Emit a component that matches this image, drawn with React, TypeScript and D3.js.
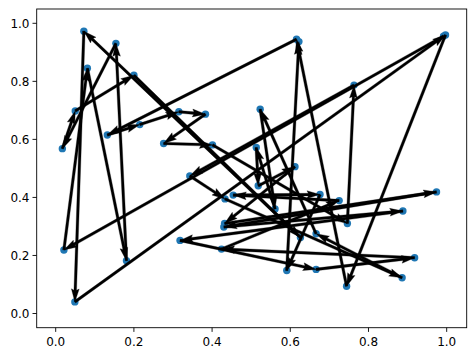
import React from "react";
import * as d3 from "d3";

// path of points (arrow i goes from point i to point i+1)
const xValues = [
  0.992, 0.021, 0.081, 0.181, 0.154, 0.017, 0.05, 0.2, 0.626, 0.072, 0.049, 0.997,
  0.744, 0.616, 0.132, 0.215, 0.315, 0.383, 0.276, 0.401, 0.746, 0.763, 0.343,
  0.433, 0.886, 0.666, 0.523, 0.561, 0.513, 0.518, 0.612, 0.432, 0.974, 0.43,
  0.888, 0.318, 0.666, 0.918, 0.424, 0.725, 0.454, 0.676, 0.591, 0.622,
];
const yValues = [
  0.956, 0.219, 0.845, 0.182, 0.931, 0.568, 0.698, 0.821, 0.262, 0.973, 0.04, 0.96,
  0.094, 0.945, 0.615, 0.651, 0.695, 0.687, 0.586, 0.581, 0.31, 0.787, 0.474,
  0.395, 0.123, 0.275, 0.704, 0.36, 0.572, 0.44, 0.506, 0.31, 0.419, 0.298,
  0.353, 0.252, 0.152, 0.192, 0.222, 0.389, 0.408, 0.41, 0.148, 0.937,
];
const tickValues = [0, 0.2, 0.4, 0.6, 0.8, 1.0];

const W = 474;
const H = 357;
const L = 36.7, R = 466.7, T = 9, B = 327.7;

export default function App() {
  const xs = d3.scaleLinear().domain([-0.0486, 1.0512]).range([L, R]);
  const ys = d3.scaleLinear().domain([-0.0489, 1.0493]).range([B, T]);
  const w = 2.6;
  const arrows = [];
  for (let i = 0; i < xValues.length - 1; i++) {
    const x0 = xs(xValues[i]), y0 = ys(yValues[i]);
    const x1 = xs(xValues[i + 1]), y1 = ys(yValues[i + 1]);
    const len = Math.hypot(x1 - x0, y1 - y0);
    const ang = (Math.atan2(y1 - y0, x1 - x0) * 180) / Math.PI;
    const hl = 5 * w, hal = 4.5 * w, hw = 1.5 * w, sw = 0.5 * w;
    const pts = [
      [0, -sw], [len - hal, -sw], [len - hl, -hw], [len, 0],
      [len - hl, hw], [len - hal, sw], [0, sw],
    ].map((p) => p.join(",")).join(" ");
    arrows.push(
      <polygon key={i} points={pts} fill="#000" stroke="#000" strokeWidth={0.3}
        transform={`translate(${x0},${y0}) rotate(${ang})`} />
    );
  }
  const font = "DejaVu Sans, sans-serif";
  return (
    <svg width={W} height={H} style={{ position: "absolute", left: 0, top: 0, background: "#fff" }}>
      <rect x={0} y={0} width={W} height={H} fill="#fff" />
      <g>
        {xValues.map((v, i) => (
          <circle key={i} cx={xs(v)} cy={ys(yValues[i])} r={3.7} fill="#1f77b4" />
        ))}
      </g>
      <g>{arrows}</g>
      <rect x={L} y={T} width={R - L} height={B - T} fill="none" stroke="#000" strokeWidth={0.9} />
      {tickValues.map((t) => (
        <g key={"x" + t}>
          <line x1={xs(t)} x2={xs(t)} y1={B} y2={B + 4.2} stroke="#000" strokeWidth={0.9} />
          <text x={xs(t)} y={B + 18.5} textAnchor="middle" fontFamily={font} fontSize={12} fill="#000">
            {t.toFixed(1)}
          </text>
        </g>
      ))}
      {tickValues.map((t) => (
        <g key={"y" + t}>
          <line x1={L - 4.2} x2={L} y1={ys(t)} y2={ys(t)} stroke="#000" strokeWidth={0.9} />
          <text x={L - 7.2} y={ys(t) + 4.3} textAnchor="end" fontFamily={font} fontSize={12} fill="#000">
            {t.toFixed(1)}
          </text>
        </g>
      ))}
    </svg>
  );
}
